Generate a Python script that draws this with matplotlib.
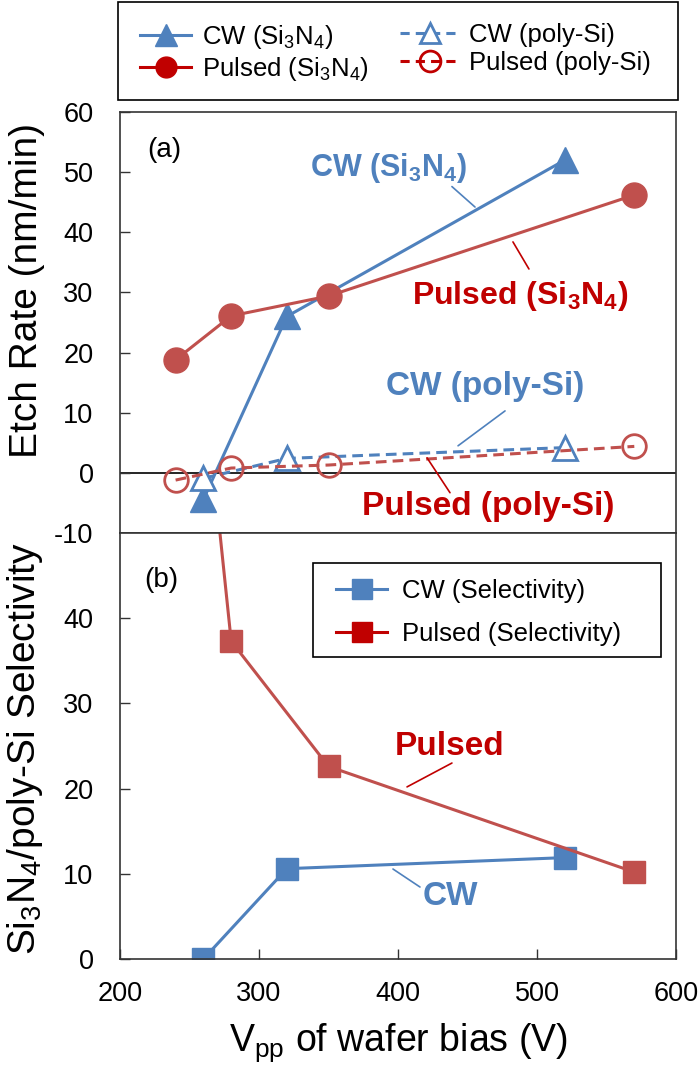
import matplotlib
matplotlib.use("Agg")
import matplotlib.pyplot as plt
from matplotlib.lines import Line2D
from matplotlib.patches import Rectangle

plt.rcParams["font.family"] = ["Liberation Sans", "DejaVu Sans"]
plt.rcParams["mathtext.default"] = "regular"
plt.rcParams["axes.unicode_minus"] = False

# data
cw_v = [260, 320, 520]
cw_sin = [-4.4, 26.0, 52.0]
cw_poly = [-0.9, 2.4, 4.2]
pulsed_v = [240, 280, 350, 570]
pulsed_sin = [18.8, 26.1, 29.4, 46.2]
pulsed_poly = [-1.2, 0.8, 1.3, 4.4]
cw_sel = [0.0, 10.6, 11.9]
pulsed_sel = [100.0, 37.3, 22.6, 10.2]

top_ticks = [-10, 0, 10, 20, 30, 40, 50, 60]
bottom_ticks = [0, 10, 20, 30, 40]
x_ticks = [200, 300, 400, 500, 600]

BLUE = "#4F81BD"
RED = "#C0504D"
DRED = "#C00000"
SPINE = "#333333"


def style_axes(ax):
    for s in ax.spines.values():
        s.set_color(SPINE)
        s.set_linewidth(1.2)
    ax.tick_params(axis="y", direction="in", length=7, width=1.0, color=SPINE,
                   labelsize=19.5, pad=19)
    ax.tick_params(axis="x", direction="in", length=7, width=1.0, color=SPINE,
                   labelsize=19.5, pad=16)


def leader(ax, start, end, color):
    ax.annotate("", xy=end, xytext=start,
                arrowprops=dict(arrowstyle="-", color=color, lw=1.2, shrinkA=0, shrinkB=0))


def box(x0, y0, x1, y1):
    # frame given in figure pixels from the top-left corner
    fig.patches.append(Rectangle((x0 / 700, 1 - y1 / 1076), (x1 - x0) / 700, (y1 - y0) / 1076,
                                 transform=fig.transFigure, fill=False, ec="black", lw=1.2,
                                 zorder=5))


fig = plt.figure(figsize=(7, 10.76), dpi=100)
ax1 = fig.add_axes([120 / 700, 1 - 533 / 1076, 556 / 700, 421 / 1076])
ax2 = fig.add_axes([120 / 700, 1 - 959 / 1076, 556 / 700, 426 / 1076])

# (a) etch rate
ax1.axhline(0, color="black", lw=1.2, zorder=1)
ax1.plot(cw_v, cw_sin, "-", color=BLUE, lw=2.2, marker="^", ms=19, mec=BLUE, mfc=BLUE)
ax1.plot(pulsed_v, pulsed_sin, "-", color=RED, lw=2.2, marker="o", ms=18, mec=RED, mfc=RED)
ax1.plot(cw_v, cw_poly, "--", color=BLUE, lw=2.2, dashes=(3.5, 2), marker="^", ms=17,
         mfc="white", mec=BLUE, mew=2)
ax1.plot(pulsed_v, pulsed_poly, "--", color=RED, lw=2.2, dashes=(3.5, 2), marker="o", ms=17,
         mfc="none", mec=RED, mew=2)
ax1.set_xlim(200, 600)
ax1.set_ylim(-10, 60)
ax1.set_yticks(top_ticks)
ax1.set_xticks([])
style_axes(ax1)
ax1.set_ylabel("Etch Rate (nm/min)", fontsize=28)
ax1.yaxis.set_label_coords(-0.135, 0.577)

ax1.text(232, 53.7, "(a)", fontsize=20, ha="center", va="center")
ax1.text(393, 50.7, "CW (Si$_3$N$_4$)", color=BLUE, fontsize=22, fontweight="bold",
         ha="center", va="center")
leader(ax1, (438.8, 47.6), (455.4, 44.2), BLUE)
ax1.text(488, 29.4, "Pulsed (Si$_3$N$_4$)", color=DRED, fontsize=23, fontweight="bold",
         ha="center", va="center")
leader(ax1, (482.7, 38.4), (494.2, 33.9), DRED)
ax1.text(462.6, 14.3, "CW (poly-Si)", color=BLUE, fontsize=24, fontweight="bold",
         ha="center", va="center")
leader(ax1, (477, 10.3), (443.2, 4.5), BLUE)
ax1.text(464.7, -5.65, "Pulsed (poly-Si)", color=DRED, fontsize=24, fontweight="bold",
         ha="center", va="center")
leader(ax1, (420.9, 2.5), (437.4, -3.3), DRED)

# (b) selectivity
ax2.plot(cw_v, cw_sel, "-", color=BLUE, lw=2.2, marker="s", ms=16, mec=BLUE, mfc=BLUE)
ax2.plot(pulsed_v, pulsed_sel, "-", color=RED, lw=2.2, marker="s", ms=16, mec=RED, mfc=RED)
ax2.set_xlim(200, 600)
ax2.set_ylim(0, 50)
ax2.set_yticks(bottom_ticks)
ax2.set_xticks(x_ticks)
style_axes(ax2)
ax2.set_ylabel("Si$_3$N$_4$/poly-Si Selectivity", fontsize=28)
ax2.yaxis.set_label_coords(-0.135, 0.494)
ax2.set_xlabel("V$_{pp}$ of wafer bias (V)", fontsize=27, labelpad=10)

ax2.text(230, 44.5, "(b)", fontsize=20, ha="center", va="center")
ax2.text(437.4, 24.9, "Pulsed", color=DRED, fontsize=24, fontweight="bold",
         ha="center", va="center")
leader(ax2, (438.8, 23.0), (406.5, 20.2), DRED)
ax2.text(438, 7.3, "CW", color=BLUE, fontsize=24, fontweight="bold",
         ha="center", va="center")
leader(ax2, (415.8, 8.45), (396.4, 10.56), BLUE)

# selectivity legend
box(313, 563, 661, 657)
sel_handles = [
    Line2D([], [], color=BLUE, lw=2.2, marker="s", ms=15, mfc=BLUE, mec=BLUE),
    Line2D([], [], color=DRED, lw=2.2, marker="s", ms=15, mfc=DRED, mec=DRED),
]
ax2.legend(sel_handles, ["CW (Selectivity)", "Pulsed (Selectivity)"],
           loc="upper left", bbox_to_anchor=(336 / 700, 1 - 579 / 1076),
           bbox_transform=fig.transFigure, fontsize=18.5, frameon=False,
           handlelength=2.0, handletextpad=0.55, labelspacing=0.75,
           borderpad=0, borderaxespad=0)

# top legend in its own box, one column at a time
box(118, 2, 678, 100)
si_handles = [
    Line2D([], [], color=BLUE, lw=2.2, marker="^", ms=16, mfc=BLUE, mec=BLUE),
    Line2D([], [], color=DRED, lw=2.2, marker="o", ms=15, mfc=DRED, mec=DRED),
]
poly_handles = [
    Line2D([], [], color=BLUE, lw=2.2, ls="--", dashes=(3, 2), marker="^", ms=15,
           mfc="white", mec=BLUE, mew=2),
    Line2D([], [], color=DRED, lw=2.2, ls="--", dashes=(3, 2), marker="o", ms=15,
           mfc="none", mec=DRED, mew=2),
]
si_labels = ["CW (Si$_3$N$_4$)", "Pulsed (Si$_3$N$_4$)"]
poly_labels = ["CW (poly-Si)", "Pulsed (poly-Si)"]
for handles, labels, x0, hl in [(si_handles, si_labels, 140, 2.0),
                                (poly_handles, poly_labels, 400, 2.3)]:
    fig.legend(handles, labels, loc="upper left",
               bbox_to_anchor=(x0 / 700, 1 - 23 / 1076),
               fontsize=18.5, frameon=False, handlelength=hl, handletextpad=0.4,
               labelspacing=0.15, borderpad=0, borderaxespad=0)

fig.savefig("out.png", dpi=100)
